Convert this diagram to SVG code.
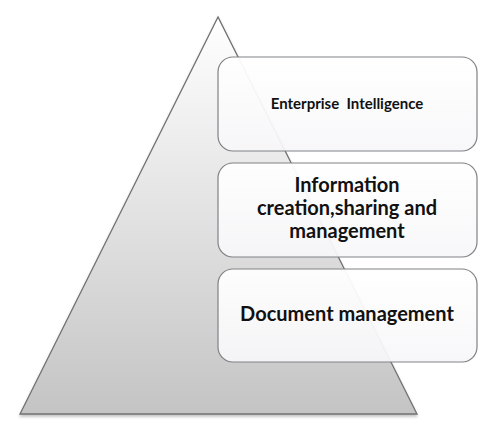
<svg xmlns="http://www.w3.org/2000/svg" width="500" height="437" viewBox="0 0 500 437">
<defs>
<linearGradient id="tg" x1="0" y1="0" x2="0" y2="1">
<stop offset="0" stop-color="#ffffff"/>
<stop offset="0.5" stop-color="#e2e2e2"/>
<stop offset="1" stop-color="#c4c4c4"/>
</linearGradient>
<linearGradient id="bg" x1="0" y1="0" x2="0" y2="1">
<stop offset="0" stop-color="#ffffff" stop-opacity="0.95"/>
<stop offset="1" stop-color="#f7f7f9" stop-opacity="0.93"/>
</linearGradient>
<filter id="sh" x="-10%" y="-10%" width="120%" height="120%">
<feGaussianBlur in="SourceAlpha" stdDeviation="1.5"/>
<feOffset dx="0" dy="1.5"/>
<feComponentTransfer><feFuncA type="linear" slope="0.25"/></feComponentTransfer>
<feMerge><feMergeNode/><feMergeNode in="SourceGraphic"/></feMerge>
</filter>
</defs>
<style>
.box{fill:url(#bg);stroke:#7f8185;stroke-width:1.2}
.t{font-family:Lato,"Open Sans","Liberation Sans",sans-serif;font-weight:bold;fill:#111;text-anchor:middle;white-space:pre}
</style>
<rect width="500" height="437" fill="#ffffff"/>
<g id="pyramid">
<polygon points="218,17 20,414 417,414" fill="url(#tg)" stroke="#707070" stroke-width="1.3" filter="url(#sh)"/>
</g>
<g id="connectors"/>
<g id="node1">
<rect class="box" x="218" y="57" width="259" height="94" rx="15"/>
<text class="t" x="347" y="109" font-size="15" xml:space="preserve">Enterprise  Intelligence</text>
</g>
<g id="node2">
<rect class="box" x="218" y="163" width="259" height="94" rx="15"/>
<text class="t" x="347" y="192" font-size="20">Information</text>
<text class="t" x="347" y="215" font-size="20">creation,sharing and</text>
<text class="t" x="347" y="238" font-size="20">management</text>
</g>
<g id="node3">
<rect class="box" x="218" y="269" width="259" height="93" rx="15"/>
<text class="t" x="347" y="321" font-size="20">Document management</text>
</g>
</svg>
